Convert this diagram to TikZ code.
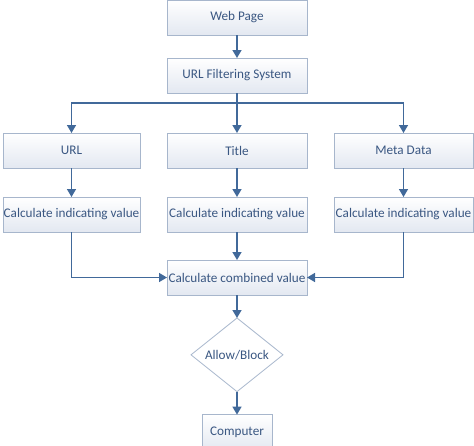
\documentclass[tikz,border=0pt]{standalone}
\usepackage{fontspec}
\setmainfont{Carlito}
\usepackage{tikz}
\usetikzlibrary{positioning,arrows.meta,shapes.geometric,calc}
\definecolor{edge}{HTML}{A7B6CC}
\definecolor{link}{HTML}{41699A}
\definecolor{ink}{HTML}{3A5782}
\definecolor{boxbot}{HTML}{E3E8F1}
\tikzset{
  box/.style={rectangle,draw=edge,line width=0.8pt,top color=white,bottom color=boxbot,
    align=center,inner sep=0pt,outer sep=0pt,minimum height=35pt,minimum width=140pt,text=ink},
  choice/.style={diamond,draw=edge,line width=0.8pt,fill=white,inner sep=0pt,outer sep=0pt,
    minimum width=92pt,minimum height=69pt,text=ink},
  ar/.style={-{Triangle[length=8pt,width=9pt]},line width=1.5pt,draw=link},
  ln/.style={line width=1.5pt,draw=link},
}

\begin{document}
\begin{tikzpicture}[node distance=23pt and 27pt,font=\fontsize{13.2}{15}\selectfont]
  \useasboundingbox (0,0) rectangle (474pt,-445pt);
  % source
  \node[box] (web) at (237pt,-17.5pt) {Web Page};
  \node[box,below=of web] (filt) {URL Filtering System};
  % features
  \node[box,below=40pt of filt] (title) {Title};
  \node[box,minimum width=137pt,left=of title] (url) {URL};
  \node[box,minimum width=139pt,right=of title] (meta) {Meta Data};
  \coordinate (bus) at ($(filt.south)+(0,-10pt)$);
  \draw[ar] (web)--(filt);
  \draw[ln] (filt.south)--(bus);
  \draw[ar] (bus) -| (url.north);
  \draw[ar] (bus)--(title);
  \draw[ar] (bus) -| (meta.north);
  % indicating values
  \node[box,minimum width=137pt,below=29pt of url] (calcu) {Calculate indicating value};
  \node[box,below=29pt of title] (calct) {Calculate indicating value};
  \node[box,minimum width=139pt,below=29pt of meta] (calcm) {Calculate indicating value};
  \draw[ar] (url)--(calcu); \draw[ar] (title)--(calct); \draw[ar] (meta)--(calcm);
  % decision
  \node[box,below=28pt of calct] (comb) {Calculate combined value};
  \draw[ar] (calct)--(comb);
  \draw[ar] (calcu) |- (comb.west); \draw[ar] (calcm) |- (comb.east);
  \node[choice,below=23pt of comb] (allow) {Allow/Block};
  \node[box,minimum width=70pt,minimum height=36pt,below=23pt of allow] (comp) {Computer};
  \draw[ar] (comb)--(allow); \draw[ar] (allow)--(comp);
\end{tikzpicture}
\end{document}
